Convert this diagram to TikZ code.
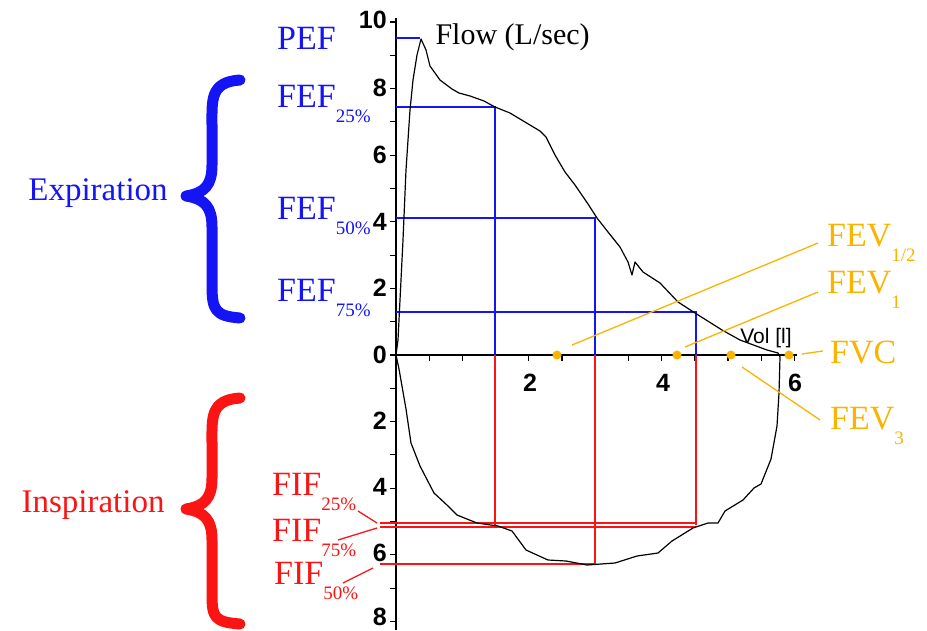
\documentclass[tikz,border=0pt]{standalone}
\usepackage{fontspec}
\setmainfont{Liberation Serif}
\newfontfamily\numfont{Liberation Sans}
\usetikzlibrary{positioning}
\definecolor{fevorange}{RGB}{250,180,0}
\definecolor{fefblue}{RGB}{20,20,245}
\definecolor{fifred}{RGB}{250,20,20}
\newcommand{\sublbl}[2]{#1\raisebox{-0.42em}{\fontsize{19}{19}\selectfont #2}}
\tikzset{
  ticklbl/.style={font=\numfont\bfseries\fontsize{25}{25}\selectfont, inner sep=1pt},
  fef/.style={fefblue, line width=1.3pt},
  fif/.style={fifred, line width=1.3pt},
  fev/.style={fevorange, line width=1.3pt},
  fevdot/.style={circle, fill=fevorange, inner sep=0pt, minimum size=9pt},
  bluelbl/.style={text=fefblue, font=\fontsize{34}{34}\selectfont, inner sep=1pt, anchor=west},
  redlbl/.style={text=fifred, font=\fontsize{34}{34}\selectfont, inner sep=1pt, anchor=west},
  orangelbl/.style={text=fevorange, font=\fontsize{34}{34}\selectfont, inner sep=1pt, anchor=west},
  bigbrace/.style={line width=11pt, line cap=round, line join=round}
}
\begin{document}
\begin{tikzpicture}[x=1pt, y=-1pt]
        \useasboundingbox (0,0) rectangle (927,630);
        % Axes
        \coordinate (o) at (396,355);
        \coordinate (ytop) at (396,18);
        \coordinate (ybot) at (396,630);
        \coordinate (xend) at (797,355);
        \draw[line width=1.6pt] (ytop) -- (ybot);
        \draw[line width=1.6pt] (o) -- (xend);
        \foreach \k in {-10,-9,...,8} {
            \draw[line width=1.1pt] (396,355+\k*33.3) -- ++(-6,0);
        }
        \foreach \k in {1,...,12} {
            \draw[line width=1.1pt] (396+\k*33.2,355) -- ++(0,6);
        }
        \foreach \v/\y in {10/20, 8/88, 6/155, 4/222, 2/288, 0/355, 2/421, 4/487, 6/553, 8/617} {
            \node[ticklbl, anchor=east] (yl\y) at (388,\y) {\v};
        }
        \foreach \v/\x in {2/530, 4/663, 6/795} {
            \node[ticklbl] (xl\v) at (\x,383) {\v};
        }
        \node[font=\fontsize{30}{30}\selectfont, anchor=west] (flow) at (432,37) {Flow (L/sec)};
        \node[font=\numfont\fontsize{21}{21}\selectfont] (vol) at (766,338) {Vol [l]};

        % Expiration / inspiration lines
        \draw[fef] (396,38) -- (420,38);
        \draw[fef] (396,107) -- (495,107) -- (495,355);
        \draw[fef] (396,218) -- (595,218) -- (595,355);
        \draw[fef] (396,312) -- (696,312) -- (696,355);
        \draw[fif] (495,355) -- (495,525);
        \draw[fif] (595,355) -- (595,564);
        \draw[fif] (696,355) -- (696,525);
        \draw[fif] (380,523) -- (696,523);
        \draw[fif] (380,527) -- (696,527);
        \draw[fif] (380,564) -- (595,564);

        % Flow-volume loop
        \draw[line width=1.2pt, line join=round] (396,355) -- (398,340) -- (400,300) -- (403,240) -- (406,170)
            -- (410,110) -- (413,80) -- (417,55) -- (421,39) -- (426,50) -- (430,66) -- (440,80)
            -- (452,89) -- (459,93) -- (470,96) -- (484,101) -- (495,107) -- (510,113) -- (525,122)
            -- (540,131) -- (546,137) -- (555,155) -- (565,172) -- (575,185) -- (588,204) -- (597,218)
            -- (608,232) -- (620,247) -- (628,262) -- (632,275) -- (635,262) -- (643,272) -- (660,283)
            -- (678,302) -- (695,313) -- (722,330) -- (740,340) -- (767,350) -- (778,353) -- (780,357)
            -- (779,393) -- (777,426) -- (771,459) -- (761,484) -- (754,488) -- (743,500) -- (725,511)
            -- (718,523) -- (708,523) -- (693,528) -- (672,541) -- (658,553) -- (637,556) -- (615,563)
            -- (601,564) -- (587,565) -- (566,561) -- (548,560) -- (526,550) -- (512,531) -- (498,526)
            -- (477,523) -- (457,515) -- (448,506) -- (434,493) -- (420,466) -- (411,443) -- (406,409)
            -- (399,369) -- (396,355);

        % Left labels
        \node[bluelbl] (pef) at (276,38) {PEF};
        \node[bluelbl] (fef25) at (276,104) {\sublbl{FEF}{25\%}};
        \node[bluelbl] (fef50) at (276,216) {\sublbl{FEF}{50\%}};
        \node[bluelbl] (fef75) at (276,298) {\sublbl{FEF}{75\%}};
        \node[redlbl] (fif25) at (271,492) {\sublbl{FIF}{25\%}};
        \node[redlbl] (fif75) at (271,538) {\sublbl{FIF}{75\%}};
        \node[redlbl] (fif50) at (273,581) {\sublbl{FIF}{50\%}};
        \coordinate (p25) at (377,523);
        \coordinate (p75) at (377,528);
        \coordinate (p50) at (373,568);
        \draw[fif] (358,511) -- (p25);
        \draw[fif] (338,540) -- (p75);
        \draw[fif] (343,583) -- (p50);

        % Braces
        \draw[bigbrace, fefblue] (240,80) .. controls (210,82) and (212,100) .. (212,125) -- (212,165)
            .. controls (212,185) and (205,193) .. (186,196) .. controls (205,199) and (212,207) .. (212,227)
            -- (212,285) .. controls (212,310) and (215,316) .. (240,318);
        \draw[bigbrace, fifred] (240,398) .. controls (210,400) and (212,418) .. (212,443) -- (212,478)
            .. controls (212,498) and (205,506) .. (186,509) .. controls (205,512) and (212,520) .. (212,540)
            -- (212,595) .. controls (212,618) and (215,622) .. (240,624);
        \node[text=fefblue, font=\fontsize{33}{33}\selectfont] (exp) at (98,193) {Expiration};
        \node[text=fifred, font=\fontsize{33}{33}\selectfont] (insp) at (93,505) {Inspiration};

        % Volume markers
        \node[fevdot] (d12) at (557,355) {};
        \node[fevdot] (d1) at (677,355) {};
        \node[fevdot] (d3) at (731,355) {};
        \node[fevdot] (dvc) at (789,355) {};
        \node[orangelbl] (fev12) at (826,243) {\sublbl{FEV}{1/2}};
        \node[orangelbl] (fev1) at (826,290) {\sublbl{FEV}{1}};
        \node[orangelbl] (fvc) at (829,352) {FVC};
        \node[orangelbl] (fev3) at (829,426) {\sublbl{FEV}{3}};
        \draw[fev] (572,345) -- (818,243);
        \draw[fev] (685,347) -- (818,292);
        \draw[fev] (802,354) -- (823,351);
        \draw[fev] (742,367) -- (820,420);
\end{tikzpicture}
\end{document}
